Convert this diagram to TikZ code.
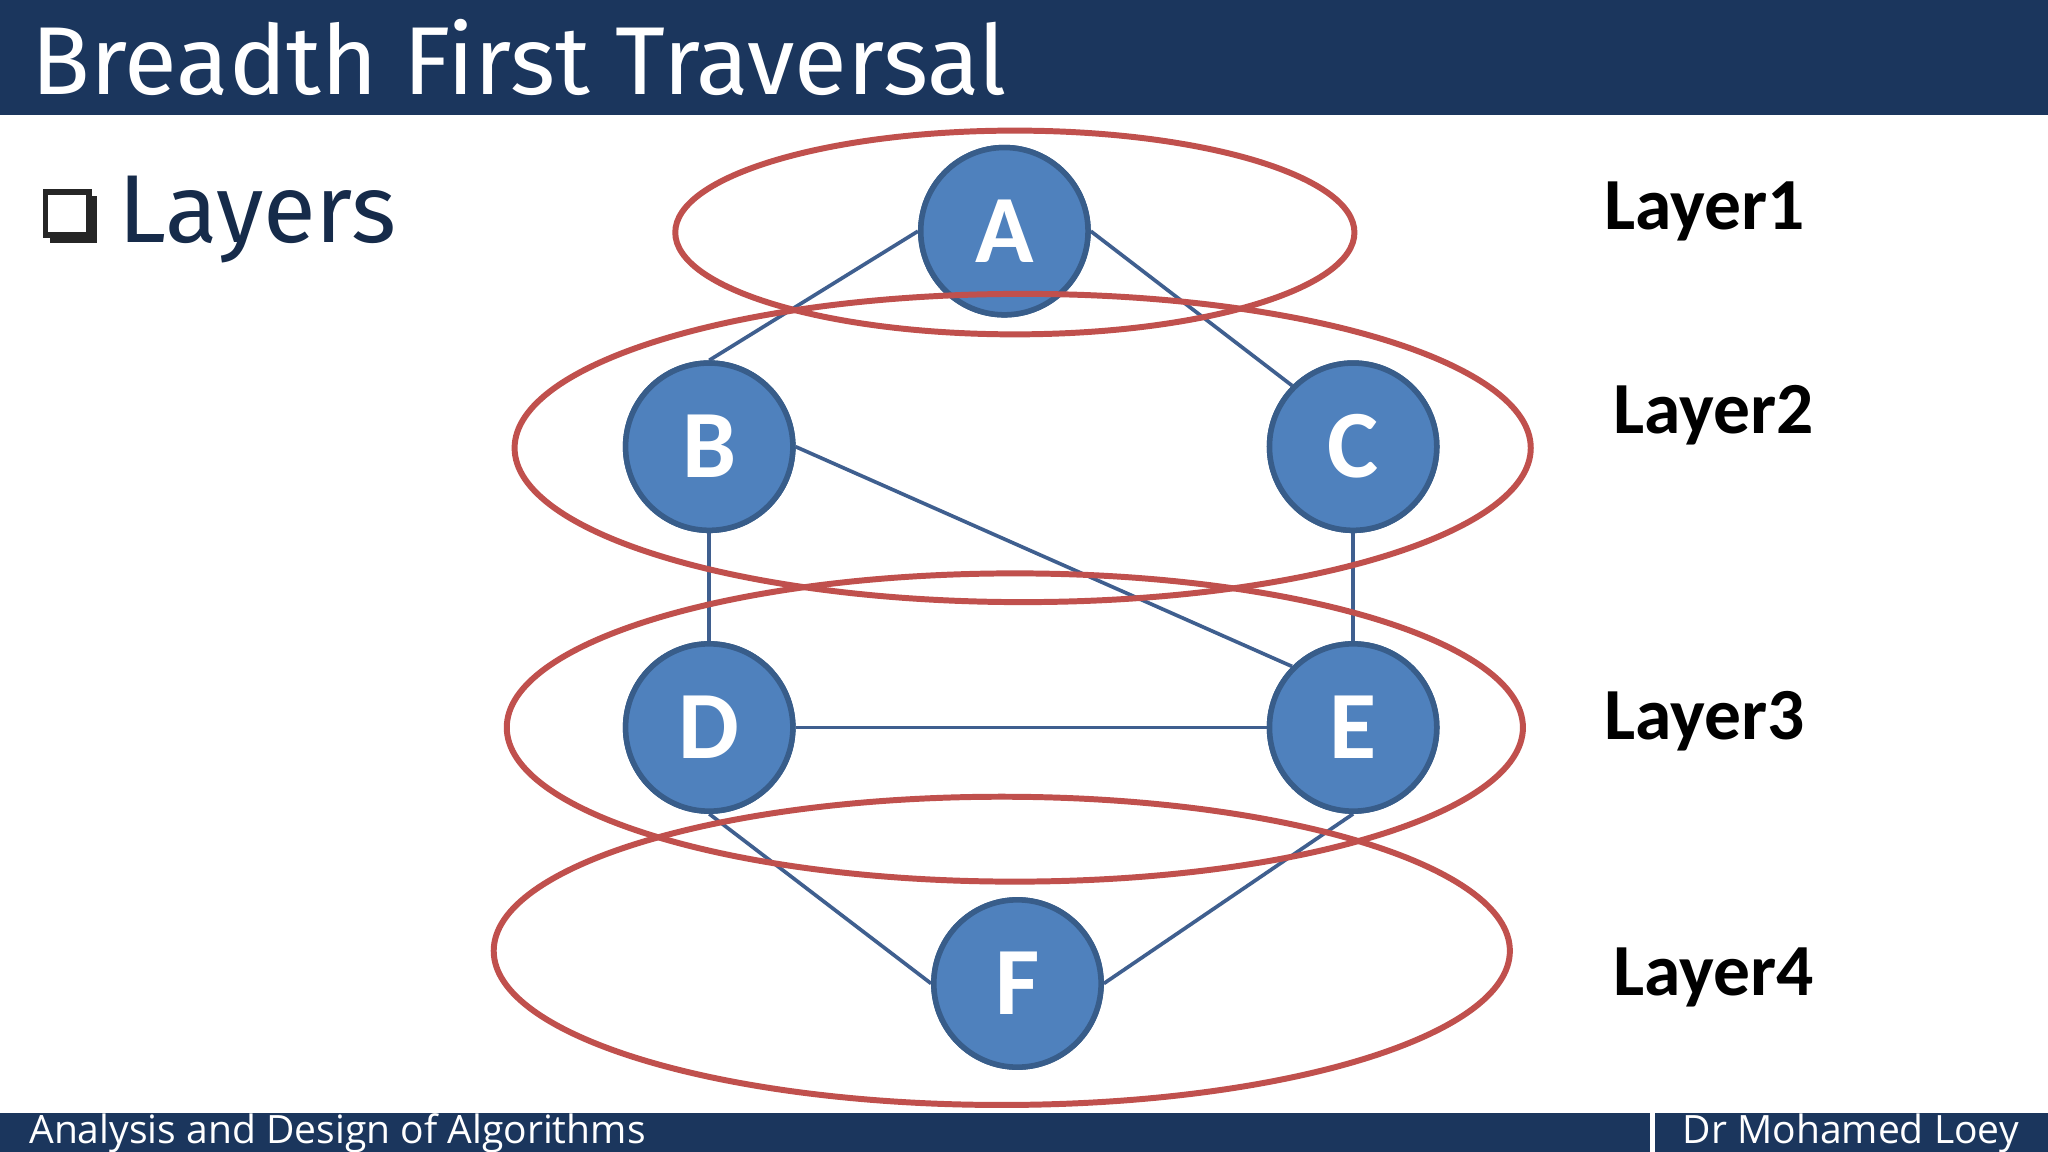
\documentclass[tikz,border=0pt]{standalone}
\usepackage{fontspec}
\setmainfont{Carlito}
\newfontfamily\titlefont{Fira Sans}
\newfontfamily\footfont{Open Sans}
\definecolor{navy}{HTML}{1B365D}
\definecolor{nodefill}{HTML}{4F81BD}
\definecolor{nodeline}{HTML}{385D8A}
\definecolor{edgec}{HTML}{3F5F8F}
\definecolor{ringc}{HTML}{C0504D}
\begin{document}
\begin{tikzpicture}[x=0.01cm,y=-0.01cm,
  vert/.style={circle,fill=nodefill,draw=nodeline,line width=1.2pt,minimum size=1.28cm,inner sep=0pt,text=white,font=\fontsize{21}{21}\selectfont\bfseries},
  edge/.style={draw=edgec,line width=0.8pt},
  ring/.style={draw=ringc,line width=1.3pt},
  lay/.style={font=\fontsize{16}{16}\selectfont\bfseries}]
\useasboundingbox (0,0) rectangle (1568,882);
\fill[white] (0,0) rectangle (1568,882);
\fill[navy] (0,0) rectangle (1568,88);
\node[anchor=west,text=white,font=\titlefont\fontsize{21}{21}\selectfont] (title) at (12,44) {Breadth First Traversal};
\fill[navy] (0,852) rectangle (1568,882);
\draw[white,line width=1pt] (1265,852) -- (1265,882);
\node[anchor=west,text=white,font=\footfont\fontsize{8.5}{9}\selectfont] (f1) at (10,868) {Analysis and Design of Algorithms};
\node[anchor=east,text=white,font=\footfont\fontsize{8.5}{9}\selectfont] (f2) at (1558,868) {Dr Mohamed Loey};
% bullet
\fill[black!85] (38,150) rectangle (74,186);
\fill[white] (35,147) rectangle (68,180);
\draw[black!85,line width=1.2pt] (35,147) rectangle (68,180);
\node[anchor=west,text=navy!80!black,font=\titlefont\fontsize{21}{21}\selectfont] (bl) at (78,168) {Layers};
% nodes
\node[vert] (A) at (769,177) {A};
\node[vert] (B) at (543,342) {B};
\node[vert] (C) at (1036,342) {C};
\node[vert] (D) at (543,557) {D};
\node[vert] (E) at (1036,557) {E};
\node[vert] (F) at (779,753) {F};
\begin{scope}[on background layer/.style={}]
\end{scope}
\draw[edge] (A.west) -- (B.north);
\draw[edge] (A.east) -- (C.north west);
\draw[edge] (B.east) -- (E.north west);
\draw[edge] (B) -- (D);
\draw[edge] (C) -- (E);
\draw[edge] (D) -- (E);
\draw[edge] (D.south) -- (F.west);
\draw[edge] (E.south) -- (F.east);
% redraw nodes over edges
\node[vert] at (769,177) {A};
\node[vert] at (543,342) {B};
\node[vert] at (1036,342) {C};
\node[vert] at (543,557) {D};
\node[vert] at (1036,557) {E};
\node[vert] at (779,753) {F};
% rings
\draw[ring] (777,178) ellipse [x radius=260, y radius=78];
\draw[ring] (783,343) ellipse [x radius=389, y radius=118];
\draw[ring] (777,557) ellipse [x radius=389, y radius=118];
\draw[ring] (767,728) ellipse [x radius=389, y radius=118];
\node[lay] (L1) at (1305,162) {Layer1};
\node[lay] (L2) at (1312,318) {Layer2};
\node[lay] (L3) at (1305,552) {Layer3};
\node[lay] (L4) at (1312,748) {Layer4};
\end{tikzpicture}
\end{document}
